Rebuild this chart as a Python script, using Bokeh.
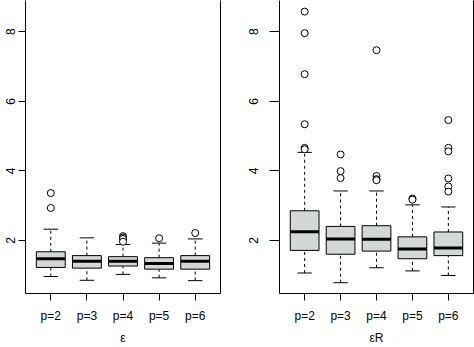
from bokeh.plotting import figure
from bokeh.layouts import row
from bokeh.models import Range1d, FixedTicker, LinearAxis
from bokeh.embed import file_html
from bokeh.resources import INLINE

categories = ["p=2", "p=3", "p=4", "p=5", "p=6"]
y_ticks = [2, 4, 6, 8]

# Left panel: epsilon
eps_lower = [0.96, 0.85, 1.02, 0.92, 0.84]
eps_q1 = [1.22, 1.20, 1.26, 1.17, 1.17]
eps_median = [1.47, 1.40, 1.40, 1.33, 1.40]
eps_q3 = [1.67, 1.56, 1.53, 1.50, 1.56]
eps_upper = [2.32, 2.07, 1.88, 1.92, 2.04]
eps_outliers = [[3.36, 2.93], [], [2.12, 2.08, 2.04, 1.96], [2.06], [2.21]]

# Right panel: epsilon R
epsR_lower = [1.06, 0.78, 1.21, 1.12, 0.99]
epsR_q1 = [1.71, 1.60, 1.69, 1.47, 1.56]
epsR_median = [2.25, 2.04, 2.03, 1.75, 1.78]
epsR_q3 = [2.85, 2.40, 2.42, 2.10, 2.24]
epsR_upper = [4.53, 3.42, 3.42, 3.02, 2.96]
epsR_outliers = [[8.58, 7.96, 6.78, 5.34, 4.66, 4.62], [4.47, 3.99, 3.79],
                 [7.47, 3.85, 3.76, 3.73], [3.20, 3.17],
                 [5.46, 4.66, 4.56, 3.78, 3.55, 3.40]]

FONT = "Liberation Sans"
BOX_FILL = "#d3d8d6"


def make_panel(lower, q1, med, q3, upper, outliers, xlabel, width,
               border_left, border_right, ytick_len, ylabel_standoff):
    p = figure(width=width, height=347, x_range=Range1d(0.3, 5.7),
               y_range=Range1d(0.47, 8.9), output_backend="svg",
               toolbar_location=None, min_border_left=border_left,
               min_border_right=border_right, min_border_top=0,
               min_border_bottom=54)
    p.grid.visible = False
    p.outline_line_color = None
    p.background_fill_color = "white"
    p.border_fill_color = "white"

    xs = list(range(1, len(categories) + 1))
    bw = 0.8
    cw = 0.4

    # whiskers (dashed)
    p.segment(x0=xs, y0=q3, x1=xs, y1=upper, line_color="black",
              line_width=1, line_dash="3 3")
    p.segment(x0=xs, y0=lower, x1=xs, y1=q1, line_color="black",
              line_width=1, line_dash="3 3")
    # caps
    p.segment(x0=[x - cw / 2 for x in xs], y0=upper,
              x1=[x + cw / 2 for x in xs], y1=upper, line_color="black", line_width=1)
    p.segment(x0=[x - cw / 2 for x in xs], y0=lower,
              x1=[x + cw / 2 for x in xs], y1=lower, line_color="black", line_width=1)
    # boxes
    p.quad(left=[x - bw / 2 for x in xs], right=[x + bw / 2 for x in xs],
           bottom=q1, top=q3, fill_color=BOX_FILL, line_color="black", line_width=1)
    # medians
    p.segment(x0=[x - bw / 2 for x in xs], y0=med,
              x1=[x + bw / 2 for x in xs], y1=med, line_color="black", line_width=3)
    # outliers
    ox, oy = [], []
    for x, vals in zip(xs, outliers):
        for v in vals:
            ox.append(x)
            oy.append(v)
    p.scatter(ox, oy, marker="circle", size=7, fill_color="white",
              line_color="black", line_width=1)

    # x axis
    xa = p.xaxis[0]
    xa.ticker = FixedTicker(ticks=xs)
    xa.major_label_overrides = {x: c for x, c in zip(xs, categories)}
    xa.minor_tick_line_color = None
    xa.major_tick_out = 7
    xa.major_tick_in = 0
    xa.major_label_standoff = 8
    xa.major_label_text_font = FONT
    xa.major_label_text_font_size = "12px"
    xa.major_label_text_color = "black"
    xa.axis_line_color = "black"
    xa.axis_label = xlabel
    xa.axis_label_text_font = FONT
    xa.axis_label_text_font_size = "12px"
    xa.axis_label_text_font_style = "normal"
    xa.axis_label_text_color = "black"
    xa.axis_label_standoff = 5

    # y axis
    ya = p.yaxis[0]
    ya.ticker = FixedTicker(ticks=y_ticks)
    ya.minor_tick_line_color = None
    ya.major_tick_out = ytick_len
    ya.major_tick_in = 0
    ya.major_label_standoff = ylabel_standoff
    ya.major_label_orientation = "parallel"
    ya.major_label_text_font = FONT
    ya.major_label_text_font_size = "12px"
    ya.major_label_text_color = "black"
    ya.axis_line_color = "black"

    # right frame line
    ra = LinearAxis(ticker=FixedTicker(ticks=[]), axis_line_color="black",
                    major_tick_line_color=None, minor_tick_line_color=None,
                    major_label_text_font_size="0px")
    p.add_layout(ra, "right")
    return p


p1 = make_panel(eps_lower, eps_q1, eps_median, eps_q3, eps_upper, eps_outliers,
                "ε", 237, 25, 17, 7, 3)
p2 = make_panel(epsR_lower, epsR_q1, epsR_median, epsR_q3, epsR_upper, epsR_outliers,
                "εR", 237, 42, 1, 10, 11)

layout = row(p1, p2)
open("out.html", "w").write(file_html(layout, INLINE))
